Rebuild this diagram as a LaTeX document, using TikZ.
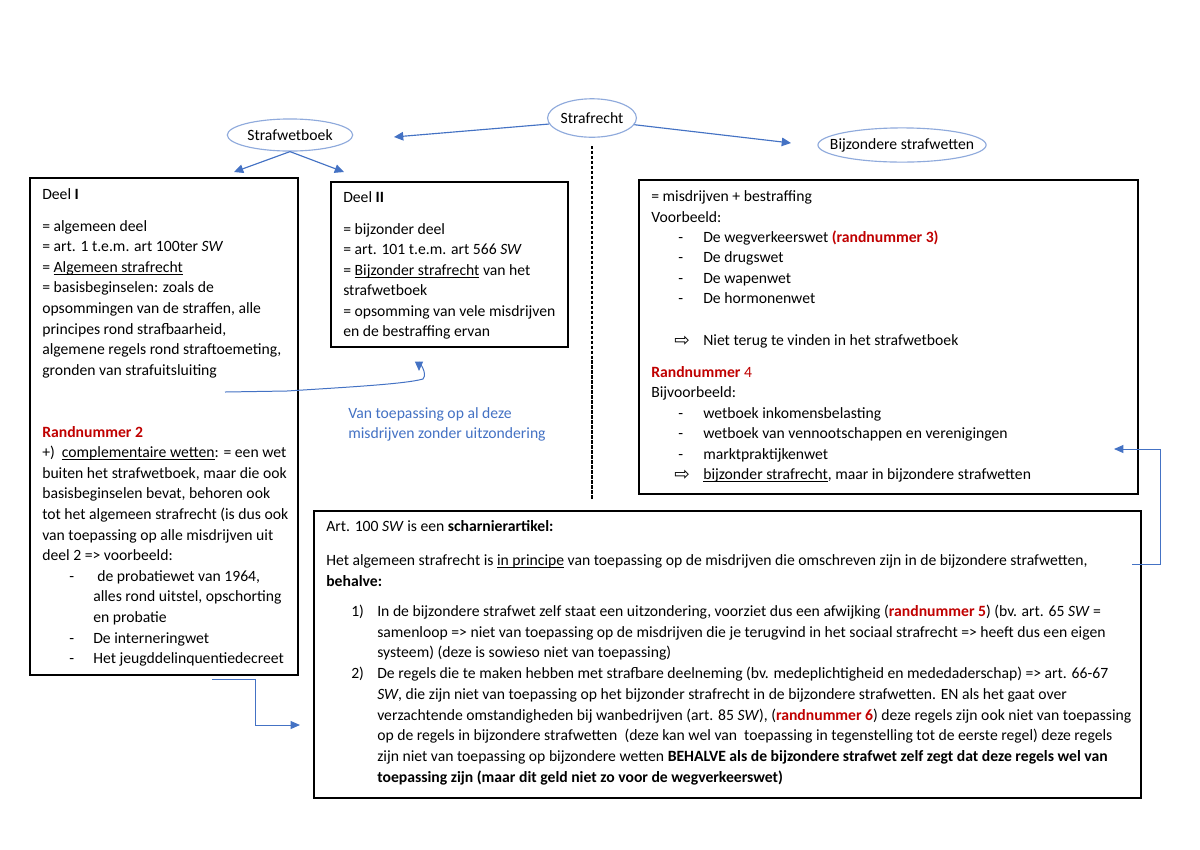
\documentclass[tikz,border=0pt]{standalone}
\usepackage{fontspec}
\setmainfont{Carlito}
\newfontfamily\symfont{DejaVu Sans}
\usetikzlibrary{shapes.geometric,arrows.meta,fit}
\definecolor{rn}{RGB}{192,0,0}
\definecolor{ablue}{RGB}{68,114,196}
\definecolor{eblue}{RGB}{143,170,220}
\newcommand\myul[1]{\setbox0=\hbox{#1}\rlap{\rule[-1.6pt]{\wd0}{0.45pt}}\box0\relax}
\newcommand\tline[4]{\node[txt] (#1) at (#2,#3) {#4};}
\newcommand\rarr{{\symfont\fontsize{13pt}{14pt}\selectfont ⇨}}
\begin{document}
\begin{tikzpicture}[x=0.70167pt,y=-0.70167pt,
  txt/.style={anchor=base west, inner sep=0pt, font=\fontsize{11pt}{13pt}\selectfont},
  boxst/.style={draw=black, line width=1.4pt, inner sep=0pt},
  ell/.style={ellipse, draw=eblue, line width=0.8pt, inner sep=0pt, font=\fontsize{11pt}{13pt}\selectfont},
  arr/.style={draw=ablue, line width=0.8pt, -{Triangle[length=6.5pt,width=6pt]}},
  conn/.style={draw=ablue, line width=0.7pt, -{Triangle[length=6.5pt,width=5.5pt]}},
  dashline/.style={draw=black, line width=1.3pt, dash pattern=on 2.4pt off 1.1pt}]
\path[use as bounding box, fill=white] (0,0) rectangle (1200,849);

% ellipses
\node[ell, minimum width=62pt, minimum height=27pt] (strafrecht) at (592,118) {Strafrecht};
\node[ell, minimum width=88pt, minimum height=22.5pt] (strafwetboek) at (290,135) {Strafwetboek};
\node[inner sep=0pt, font=\fontsize{11pt}{13pt}\selectfont] (bijz) at (902,145) {Bijzondere strafwetten};
\draw[draw=eblue, line width=0.8pt] (bijz.center) ellipse [x radius=59pt, y radius=12pt];

% boxes
\node[boxst, fit={(30,178) (298,675)}] (deel1) {};
\node[boxst, fit={(331,182) (568,347)}] (deel2) {};
\node[boxst, fit={(639,180) (1138,494)}] (rbox) {};
\node[boxst, fit={(314,511) (1141,798)}] (bbox) {};

% connectors top
\coordinate (a1) at (394,137);
\coordinate (a2) at (791,143);
\coordinate (a3) at (234,172);
\coordinate (a4) at (344,172);
\draw[arr] (strafrecht.188) -- (a1);
\draw[arr] (strafrecht.-9) -- (a2);
\draw[arr] (strafwetboek.south) -- (a3);
\draw[arr] (strafwetboek.south) -- (a4);

% dashed divider
\coordinate (dtop) at (592,146);
\coordinate (dbot) at (592,500);
\draw[dashline] (dtop) -- (dbot);

% curved connector Deel I -> Deel II
\coordinate (c1) at (225,392);
\coordinate (c2) at (419,371);
\draw[conn] (c1) -- (287,391) .. controls (350,387) and (405,384) .. (423,379)
  .. controls (428,373) and (419,362) .. (c2);

% bottom-left connector
\coordinate (b1) at (212,679);
\coordinate (b2) at (300,725);
\draw[conn] (b1) -- (255,679) -- (255,725) -- (b2);

% right connector
\coordinate (r1) at (1132,564);
\coordinate (r2) at (1114,449);
\draw[conn] (r1) -- (1160,564) -- (1160,449) -- (r2);

% Deel I text
\tline{d1a}{42}{199}{Deel \textbf{I}}
\tline{d1b}{42}{231}{= algemeen deel}
\tline{d1c}{42}{251.6}{= art. 1 t.e.m. art 100ter \textit{SW}}
\tline{d1d}{42}{272.2}{= \myul{Algemeen strafrecht}}
\tline{d1e}{42}{292.8}{= basisbeginselen: zoals de}
\tline{d1f}{42}{313.4}{opsommingen van de straffen, alle}
\tline{d1g}{42}{334}{principes rond strafbaarheid,}
\tline{d1h}{42}{354.6}{algemene regels rond straftoemeting,}
\tline{d1i}{42}{375.2}{gronden van strafuitsluiting}
\tline{d1j}{42}{437}{\textcolor{rn}{\textbf{Randnummer 2}}}
\tline{d1k}{42}{457.6}{+)\ \ \myul{complementaire wetten}: = een wet}
\tline{d1l}{42}{478.2}{buiten het strafwetboek, maar die ook}
\tline{d1m}{42}{498.8}{basisbeginselen bevat, behoren ook}
\tline{d1n}{42}{519.4}{tot het algemeen strafrecht (is dus ook}
\tline{d1o}{42}{540}{van toepassing op alle misdrijven uit}
\tline{d1p}{42}{560.6}{deel 2 => voorbeeld:}
\tline{d1q}{69}{581.2}{-}
\tline{d1r}{97}{581.2}{de probatiewet van 1964,}
\tline{d1s}{93}{601.8}{alles rond uitstel, opschorting}
\tline{d1t}{93}{622.4}{en probatie}
\tline{d1u}{69}{643}{-}
\tline{d1v}{93}{643}{De interneringwet}
\tline{d1w}{69}{663.6}{-}
\tline{d1x}{93}{663.6}{Het jeugddelinquentiedecreet}

% Deel II text
\tline{d2a}{343}{202}{Deel \textbf{II}}
\tline{d2b}{343}{234}{= bijzonder deel}
\tline{d2c}{343}{254.5}{= art. 101 t.e.m. art 566 \textit{SW}}
\tline{d2d}{343}{275}{= \myul{Bijzonder strafrecht} van het}
\tline{d2e}{343}{295.5}{strafwetboek}
\tline{d2f}{343}{316}{= opsomming van vele misdrijven}
\tline{d2g}{343}{336.5}{en de bestraffing ervan}

% blue label
\tline{v1}{348}{418}{\textcolor{ablue}{Van toepassing op al deze}}
\tline{v2}{348}{438}{\textcolor{ablue}{misdrijven zonder uitzondering}}

% right box text
\tline{ra}{651}{201}{= misdrijven + bestraffing}
\tline{rb}{651}{222}{Voorbeeld:}
\tline{rc1}{678}{242}{-}
\tline{rc}{703}{242}{De wegverkeerswet \textcolor{rn}{\textbf{(randnummer 3)}}}
\tline{rd1}{678}{262.5}{-}
\tline{rd}{703}{262.5}{De drugswet}
\tline{re1}{678}{283}{-}
\tline{re}{703}{283}{De wapenwet}
\tline{rf1}{678}{303.5}{-}
\tline{rf}{703}{303.5}{De hormonenwet}
\tline{rg1}{674}{346}{\rarr}
\tline{rg}{703}{345.5}{Niet terug te vinden in het strafwetboek}
\tline{rh}{651}{377}{\textcolor{rn}{\textbf{Randnummer} 4}}
\tline{ri}{651}{397.5}{Bijvoorbeeld:}
\tline{rj1}{678}{418}{-}
\tline{rj}{703}{418}{wetboek inkomensbelasting}
\tline{rk1}{678}{438.5}{-}
\tline{rk}{703}{438.5}{wetboek van vennootschappen en verenigingen}
\tline{rl1}{678}{459}{-}
\tline{rl}{703}{459}{marktpraktijkenwet}
\tline{rm1}{674}{480}{\rarr}
\tline{rm}{703}{479.5}{\myul{bijzonder strafrecht}, maar in bijzondere strafwetten}

% bottom box text
\tline{ba}{326}{531}{Art. 100 \textit{SW} is een \textbf{scharnierartikel:}}
\tline{bb}{326}{565}{Het algemeen strafrecht is \myul{in principe} van toepassing op de misdrijven die omschreven zijn in de bijzondere strafwetten,}
\tline{bc}{326}{586}{\textbf{behalve:}}
\tline{bd1}{351}{616.5}{1)}
\tline{bd}{377}{616.5}{In de bijzondere strafwet zelf staat een uitzondering, voorziet dus een afwijking (\textcolor{rn}{\textbf{randnummer 5}}) (bv. art. 65 \textit{SW} =}
\tline{be}{377}{637.2}{samenloop => niet van toepassing op de misdrijven die je terugvind in het sociaal strafrecht => heeft dus een eigen}
\tline{bf}{377}{657.9}{systeem) (deze is sowieso niet van toepassing)}
\tline{bg1}{351}{678.6}{2)}
\tline{bg}{377}{678.6}{De regels die te maken hebben met strafbare deelneming (bv. medeplichtigheid en mededaderschap) => art. 66-67}
\tline{bh}{377}{699.3}{\textit{SW}, die zijn niet van toepassing op het bijzonder strafrecht in de bijzondere strafwetten. EN als het gaat over}
\tline{bi}{377}{720}{verzachtende omstandigheden bij wanbedrijven (art. 85 \textit{SW}), (\textcolor{rn}{\textbf{randnummer 6}}) deze regels zijn ook niet van toepassing}
\tline{bj}{377}{740.7}{op de regels in bijzondere strafwetten\ \ (deze kan wel van\ \ toepassing in tegenstelling tot de eerste regel) deze regels}
\tline{bk}{377}{761.4}{zijn niet van toepassing op bijzondere wetten \textbf{BEHALVE als de bijzondere strafwet zelf zegt dat deze regels wel van}}
\tline{bl}{377}{782.1}{\textbf{toepassing zijn (maar dit geld niet zo voor de wegverkeerswet)}}
\end{tikzpicture}
\end{document}
